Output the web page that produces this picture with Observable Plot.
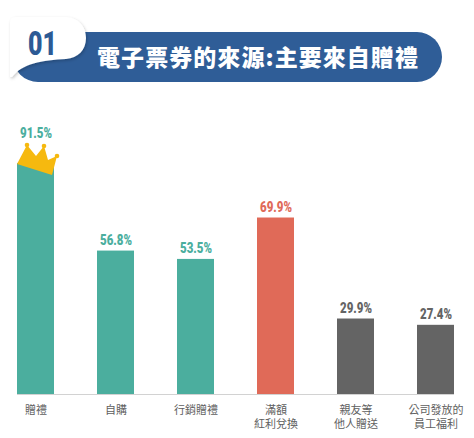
<!DOCTYPE html>
<html><head><meta charset="utf-8">
<script src="https://cdn.jsdelivr.net/npm/d3@7"></script>
<script src="https://cdn.jsdelivr.net/npm/@observablehq/plot@0.6"></script>
<style>
body{margin:0;background:#fff;width:474px;height:438px;overflow:hidden;font-family:"Noto Sans CJK TC",sans-serif}
#chart svg{display:block}
</style></head><body>
<div id="chart"></div>
<script>
const categories = ["贈禮","自購","行銷贈禮","滿額\n紅利兌換","親友等\n他人贈送","公司發放的\n員工福利"];
const values = [91.5,56.8,53.5,69.9,29.9,27.4];
const groups = ["teal","teal","teal","red","gray","gray"];
const titleText = "電子票券的來源:主要來自贈禮";
const sectionNumber = "01";
const palette = {teal:"#4bae9e", red:"#e06a58", gray:"#646464"};

const data = categories.map((c,i)=>({category:c, value:values[i], group:groups[i], label:values[i].toFixed(1)+"%"}));
const chart = document.getElementById("chart");

// Header banner
const header = d3.create("svg").attr("width",474).attr("height",95);
const defs = header.append("defs");
defs.append("filter").attr("id","sh").attr("x","-20%").attr("y","-20%").attr("width","150%").attr("height","150%")
  .append("feDropShadow").attr("dx",1).attr("dy",1.5).attr("stdDeviation",1.5).attr("flood-color","#000").attr("flood-opacity",0.22);
header.append("rect").attr("x",13).attr("y",32).attr("width",429).attr("height",50).attr("rx",25).attr("fill","#2f5d97");
header.append("path")
  .attr("d","M10,23 Q10,17 16,17 L64,17 C79,17 86,27 86,38 C86,50 78,58 66,59 C42,60 22,64 12,77 L10,77 Z")
  .attr("fill","#fff").attr("filter","url(#sh)");
header.append("text").attr("x",28).attr("y",54.5).text(sectionNumber)
  .attr("font-family","Roboto").attr("font-weight",900).attr("font-size",34)
  .attr("textLength",29).attr("lengthAdjust","spacingAndGlyphs").attr("fill","#2c5a94");
header.append("text").attr("x",97).attr("y",65.5).text(titleText)
  .attr("font-family","Noto Sans CJK TC").attr("font-weight",900).attr("font-size",23)
  .attr("textLength",321).attr("lengthAdjust","spacing").attr("fill","#fff");
chart.appendChild(header.node());

function crownMark(index, scales) {
  const x0 = scales.x(categories[0]);
  const y0 = scales.y(values[0]);
  const g = d3.create("svg:g").attr("transform",`translate(${x0},${y0})`).attr("fill","#f6b90f");
  g.append("path").attr("d","M0,1 L10,-18 L19,-7 L27,-17 L31,-3 L40,-7 L35,12 Z");
  [[10,-18],[27,-17],[40,-7]].forEach(([cx,cy])=>g.append("circle").attr("cx",cx).attr("cy",cy).attr("r",2.3));
  return g.node();
}

const plot = Plot.plot({
  width:474, height:343,
  marginTop:46.5, marginBottom:44, marginLeft:17, marginRight:20,
  x:{domain:categories, paddingInner:0.5375, paddingOuter:0, axis:null},
  y:{domain:[0,100], axis:null},
  style:{fontFamily:"Noto Sans CJK TC", background:"#fff"},
  marks:[
    Plot.barY(data,{x:"category", y:"value", fill:d=>palette[d.group]}),
    Plot.ruleY([0],{stroke:"#d2d2d2", strokeWidth:1}),
    Plot.text(data.slice(0,1),{x:"category", y:"value", text:"label", fill:d=>palette[d.group], dy:-30, lineAnchor:"middle", fontSize:15, fontWeight:900, fontFamily:"Roboto", className:"vlab"}),
    Plot.text(data.slice(1),{x:"category", y:"value", text:"label", fill:d=>palette[d.group], dy:-11, lineAnchor:"middle", fontSize:15, fontWeight:900, fontFamily:"Roboto", className:"vlab"}),
    Plot.text(data,{x:"category", y:0, text:"category", fill:"#5e5e5e", dy:10, lineAnchor:"top", fontSize:11, lineHeight:1.25}),
    crownMark
  ]
});
d3.select(plot).selectAll(".vlab text").attr("textLength",32).attr("lengthAdjust","spacingAndGlyphs");
chart.appendChild(plot);
</script>
</body></html>
